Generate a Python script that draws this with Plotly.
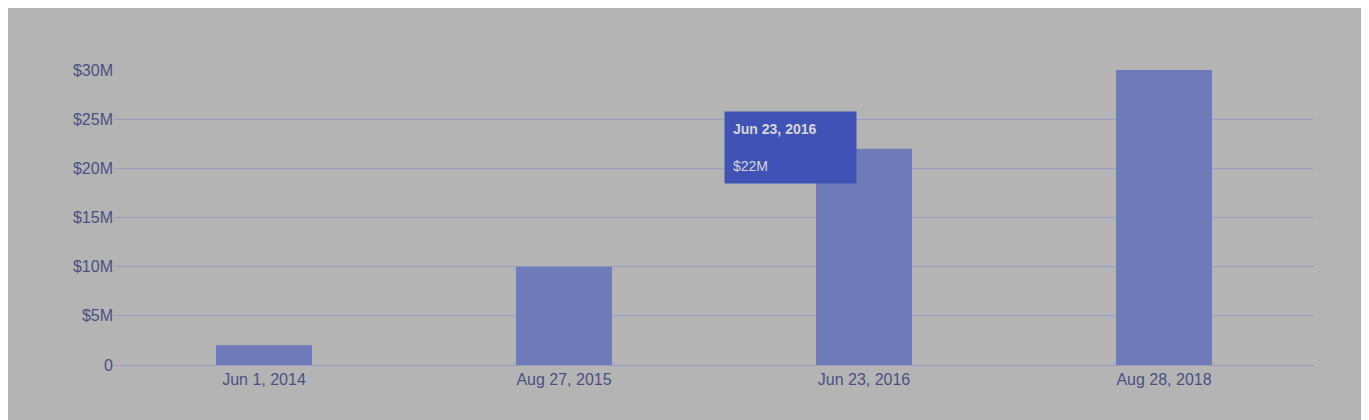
import plotly.graph_objects as go

dates = ["Jun 1, 2014", "Aug 27, 2015", "Jun 23, 2016", "Aug 28, 2018"]
amounts = [2, 10, 22, 30]  # millions of dollars
tick_vals = [0, 5, 10, 15, 20, 25, 30]
tick_text = ["0", "$5M", "$10M", "$15M", "$20M", "$25M", "$30M"]

fig = go.Figure(go.Bar(x=dates, y=amounts, marker_color="#6f7bb8",
                       marker_line_width=0, width=0.32))

# hover tooltip shown on the third bar
fig.add_annotation(
    x=dates[2], y=22.1, xref="x", yref="y", xanchor="right", yanchor="middle",
    xshift=-7, showarrow=False, align="left",
    text="<b>Jun 23, 2016</b><br><span style='font-size:6px'> </span><br>$22M",
    font=dict(family="Liberation Sans", size=14, color="#d6d6d6"),
    bgcolor="#4052b5", width=115, height=55, borderpad=8,
)

fig.update_layout(
    width=1369, height=420,
    margin=dict(l=106, r=63, t=61, b=63),
    paper_bgcolor="#b4b4b4", plot_bgcolor="#b4b4b4",
    font=dict(family="Liberation Sans", size=16, color="#4b5082"),
    showlegend=False,
    xaxis=dict(showgrid=False, ticks="", showline=True, linecolor="#9a9cc6"),
    yaxis=dict(range=[0, 30.1], tickvals=tick_vals, ticktext=tick_text,
               gridcolor="#9a9cc6", zeroline=False, ticklen=14,
               tickcolor="rgba(0,0,0,0)"),
)

fig.write_html("out.html")
